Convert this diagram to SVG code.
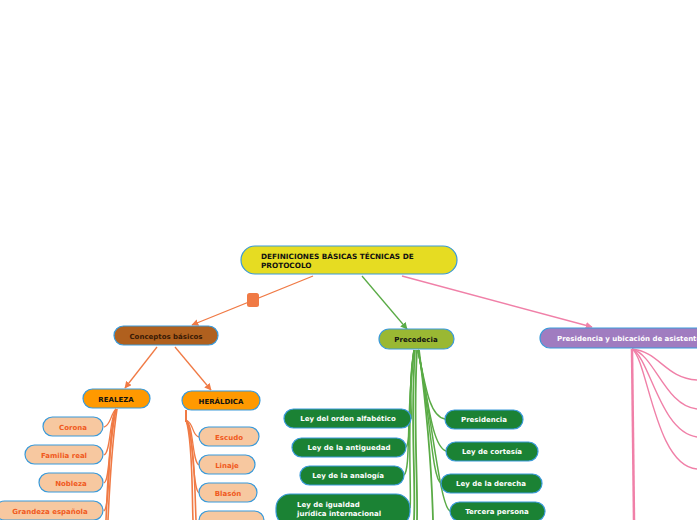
<svg xmlns="http://www.w3.org/2000/svg" width="697" height="520" viewBox="0 0 697 520">
<defs>
<marker id="aO" viewBox="0 0 10 10" refX="9" refY="5" markerWidth="7" markerHeight="7" orient="auto" markerUnits="userSpaceOnUse"><path d="M0,0 L10,5 L0,10 z" fill="#f07a45"/></marker>
<marker id="aG" viewBox="0 0 10 10" refX="9" refY="5" markerWidth="7" markerHeight="7" orient="auto" markerUnits="userSpaceOnUse"><path d="M0,0 L10,5 L0,10 z" fill="#5aab46"/></marker>
<marker id="aP" viewBox="0 0 10 10" refX="9" refY="5" markerWidth="7" markerHeight="7" orient="auto" markerUnits="userSpaceOnUse"><path d="M0,0 L10,5 L0,10 z" fill="#f080a8"/></marker>
</defs>
<style>
text{font-family:"DejaVu Sans",Verdana,sans-serif;font-weight:bold;font-size:7px}
.t{font-size:7.3px}
.c{text-anchor:middle}
.n{stroke:#3a9ad9;stroke-width:1.2}
.o{fill:none;stroke:#f07a45}
.g{fill:none;stroke:#5aab46}
.p{fill:none;stroke:#f080a8}
.peach{fill:#f7c8a0}
.pt{fill:#f05a1e}
.dg{fill:#1b8234}
.wt{fill:#ffffff}
</style>
<rect width="697" height="520" fill="#ffffff"/>
<g id="connectors">
<path class="o" stroke-width="1.3" d="M313,276 L192,325" marker-end="url(#aO)"/>
<rect x="247" y="293" width="12" height="14" rx="2.5" fill="#f07a45"/>
<path class="g" stroke-width="1.3" d="M362,276 L407,329" marker-end="url(#aG)"/>
<path class="p" stroke-width="1.3" d="M402,276 L592,327" marker-end="url(#aP)"/>
<path class="o" stroke-width="1.3" d="M157,347 L125,388" marker-end="url(#aO)"/>
<path class="o" stroke-width="1.3" d="M175,347 L211,390" marker-end="url(#aO)"/>
<path class="o" stroke-width="1.3" d="M116,409 C110,415 111,425 104,427"/>
<path class="o" stroke-width="1.3" d="M116,409 C109,420 111,452 104,455"/>
<path class="o" stroke-width="1.3" d="M116,409 C108,430 111,480 104,483"/>
<path class="o" stroke-width="1.3" d="M116,409 C107,440 111,506 104,511"/>
<path class="o" stroke-width="1.6" d="M116,409 C108,450 107,500 106,520"/>
<path class="o" stroke-width="1.6" d="M117,409 C111,450 109,500 108,520"/>
<path class="o" stroke-width="2" d="M186,410 L186,422"/>
<path class="o" stroke-width="1.3" d="M186,420 C194,423 192,436 199,437"/>
<path class="o" stroke-width="1.3" d="M186,420 C194,426 192,462 199,465"/>
<path class="o" stroke-width="1.3" d="M186,420 C194,430 192,490 199,493"/>
<path class="o" stroke-width="1.6" d="M186,420 C193,440 192,500 193,520"/>
<path class="o" stroke-width="1.6" d="M186,420 C195,440 195,500 196,520"/>
<path class="g" stroke-width="1.5" d="M414,350 C407,390 413,415 411,419"/>
<path class="g" stroke-width="1.5" d="M414,350 C407,400 412,440 406,447"/>
<path class="g" stroke-width="1.5" d="M414,350 C406,410 411,470 404,475"/>
<path class="g" stroke-width="1.5" d="M414,350 C406,420 412,500 410,508"/>
<path class="g" stroke-width="1.8" d="M415,350 C410,420 416,480 414,520"/>
<path class="g" stroke-width="1.8" d="M417,350 C413,420 418,480 417,520"/>
<path class="g" stroke-width="1.5" d="M418,350 C426,390 430,416 445,419"/>
<path class="g" stroke-width="1.5" d="M418,350 C428,400 432,446 446,451"/>
<path class="g" stroke-width="1.5" d="M418,350 C430,410 432,480 441,483"/>
<path class="g" stroke-width="1.5" d="M418,350 C432,420 440,506 450,511"/>
<path class="g" stroke-width="1.8" d="M419,350 C428,420 432,480 433,520"/>
<path class="p" stroke-width="2.5" d="M632,349 L634,520"/>
<path class="p" stroke-width="1.4" d="M632,349 C660,352 665,378 697,380"/>
<path class="p" stroke-width="1.4" d="M632,349 C655,355 665,406 697,409"/>
<path class="p" stroke-width="1.4" d="M632,349 C650,358 660,432 697,437"/>
<path class="p" stroke-width="1.4" d="M632,349 C648,360 655,466 697,469"/>
</g>
<g id="root">
<rect class="n" x="241" y="246" width="216" height="28" rx="14" fill="#e6dc22"/>
<text class="t" x="261" y="259" fill="#111">DEFINICIONES BÁSICAS TÉCNICAS DE</text>
<text class="t" x="261" y="268" fill="#111">PROTOCOLO</text>
</g>
<g id="conceptos">
<rect class="n" x="114" y="326" width="104" height="19" rx="9.5" fill="#b0601e"/>
<text class="c" x="166" y="338.5" fill="#3a1a05">Conceptos básicos</text>
</g>
<g id="realeza">
<rect class="n" x="83" y="389" width="67" height="19" rx="9.5" fill="#ff9900"/>
<text class="c" x="116" y="401.5" fill="#111">REALEZA</text>
</g>
<g id="heraldica">
<rect class="n" x="182" y="391" width="78" height="19" rx="9.5" fill="#ff9900"/>
<text class="c" x="221" y="403.5" fill="#111">HERÁLDICA</text>
</g>
<g id="corona"><rect class="n peach" x="43" y="417" width="60" height="19" rx="9.5"/><text class="c pt" x="73" y="429.5">Corona</text></g>
<g id="familia"><rect class="n peach" x="25" y="445" width="78" height="19" rx="9.5"/><text class="c pt" x="64" y="457.5">Familia real</text></g>
<g id="nobleza"><rect class="n peach" x="39" y="473" width="64" height="19" rx="9.5"/><text class="c pt" x="71" y="485.5">Nobleza</text></g>
<g id="grandeza"><rect class="n peach" x="-5" y="501" width="108" height="19" rx="9.5"/><text class="c pt" x="50" y="513.5">Grandeza española</text></g>
<g id="escudo"><rect class="n peach" x="199" y="427" width="60" height="19" rx="9.5"/><text class="c pt" x="229" y="439.5">Escudo</text></g>
<g id="linaje"><rect class="n peach" x="199" y="455" width="56" height="19" rx="9.5"/><text class="c pt" x="227" y="467.5">Linaje</text></g>
<g id="blason"><rect class="n peach" x="199" y="483" width="58" height="19" rx="9.5"/><text class="c pt" x="228" y="495.5">Blasón</text></g>
<g id="heraldica4"><rect class="n peach" x="199" y="511" width="65" height="19" rx="9.5"/></g>
<g id="precedecia">
<rect class="n" x="379" y="329" width="75" height="20" rx="10" fill="#9ab833"/>
<text class="c" x="416" y="341.5" fill="#111">Precedecia</text>
</g>
<g id="alfabetico"><rect class="n dg" x="284" y="409" width="127" height="19" rx="9.5"/><text class="c wt" x="348" y="421">Ley del orden alfabético</text></g>
<g id="antiguedad"><rect class="n dg" x="292" y="438" width="114" height="19" rx="9.5"/><text class="c wt" x="349" y="450">Ley de la antiguedad</text></g>
<g id="analogia"><rect class="n dg" x="300" y="466" width="104" height="19" rx="9.5"/><text class="c wt" x="348" y="478">Ley de la analogía</text></g>
<g id="igualdad"><rect class="n dg" x="276" y="494" width="134" height="32" rx="14"/><text class="wt" x="297" y="507">Ley de igualdad</text><text class="wt" x="297" y="516">jurídica internacional</text></g>
<g id="presidencia"><rect class="n dg" x="445" y="410" width="78" height="19" rx="9.5"/><text class="c wt" x="484" y="422">Presidencia</text></g>
<g id="cortesia"><rect class="n dg" x="446" y="442" width="92" height="19" rx="9.5"/><text class="c wt" x="492" y="454">Ley de cortesía</text></g>
<g id="derecha"><rect class="n dg" x="441" y="474" width="101" height="19" rx="9.5"/><text class="c wt" x="491" y="486">Ley de la derecha</text></g>
<g id="tercera"><rect class="n dg" x="450" y="502" width="95" height="19" rx="9.5"/><text class="c wt" x="497" y="514">Tercera persona</text></g>
<g id="presidencia-ubicacion">
<rect class="n" x="540" y="328" width="180" height="20" rx="10" fill="#a07cc0"/>
<text x="557" y="341" fill="#ffffff">Presidencia y ubicación de asistentes</text>
</g>
</svg>
